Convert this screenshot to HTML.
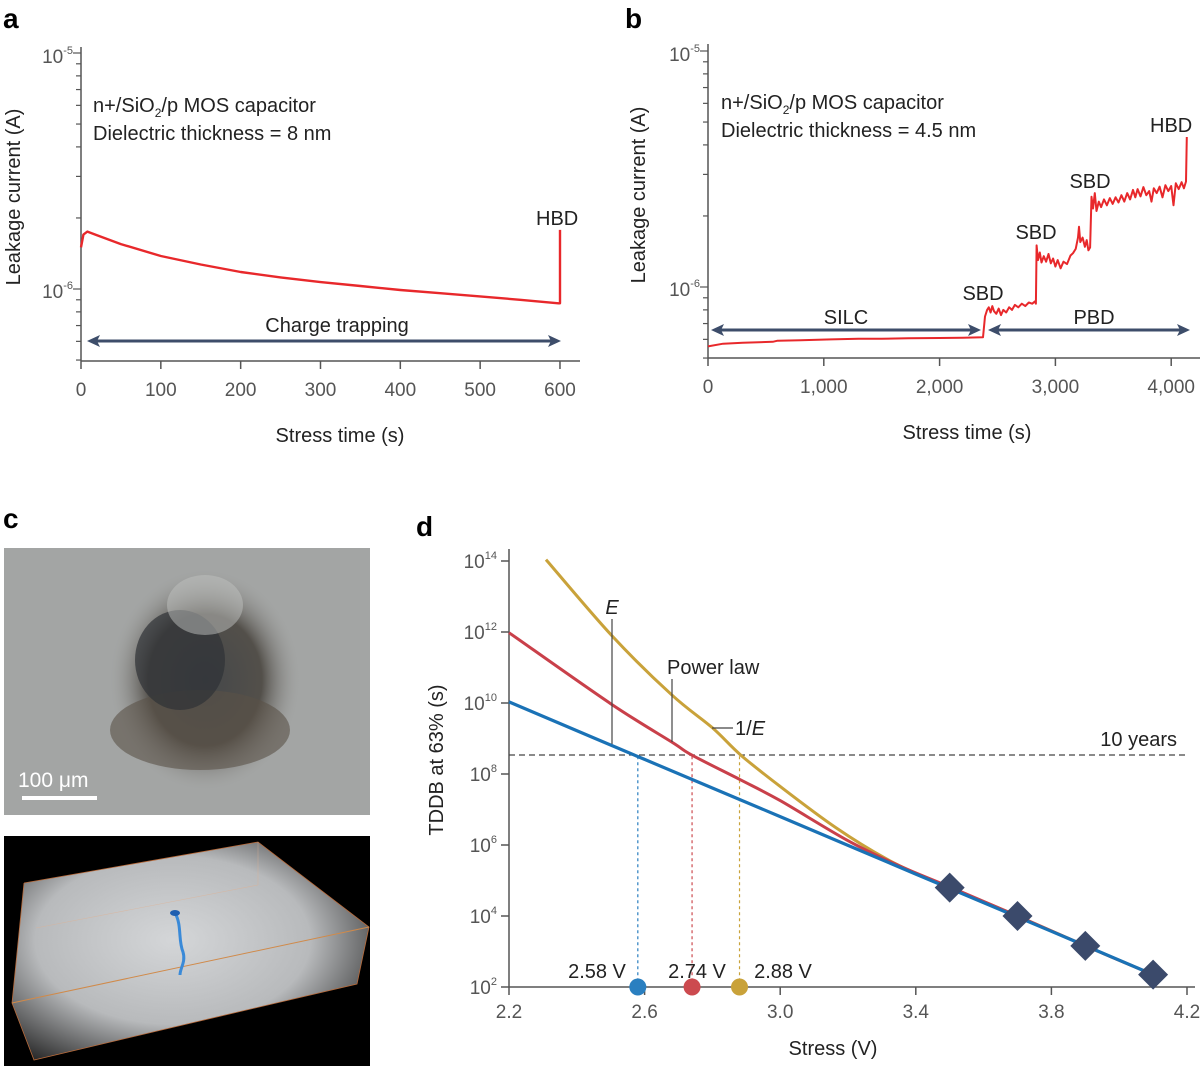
<!DOCTYPE html>
<html><head><meta charset="utf-8"><style>
html,body{margin:0;padding:0;background:#fff}
svg{display:block;font-family:"Liberation Sans",sans-serif}
</style></head><body>
<svg id="fig" width="1200" height="1066" viewBox="0 0 1200 1066" xmlns="http://www.w3.org/2000/svg">
<defs>
<radialGradient id="boxg" cx="0.45" cy="0.45" r="0.7">
<stop offset="0" stop-color="#d4d6d8"/><stop offset="0.55" stop-color="#b8babc"/><stop offset="1" stop-color="#1a1a1a"/>
</radialGradient>
<radialGradient id="blob" cx="0.5" cy="0.5" r="0.5">
<stop offset="0" stop-color="#3a3d40"/><stop offset="0.6" stop-color="#4a4640"/><stop offset="1" stop-color="#9a9a98" stop-opacity="0"/>
</radialGradient>
</defs>
<text x="3" y="28" font-size="28" font-weight="bold">a</text>
<text x="625" y="28" font-size="28" font-weight="bold">b</text>
<text x="3" y="528" font-size="28" font-weight="bold">c</text>
<text x="416" y="536" font-size="28" font-weight="bold">d</text>

<g id="pa">
<line x1="81" y1="47" x2="81" y2="361" stroke="#555" stroke-width="1.5"/>
<line x1="81" y1="361" x2="580" y2="361" stroke="#555" stroke-width="1.5"/>
<text x="73" y="63" font-size="19" fill="#555" text-anchor="end">10<tspan font-size="11" dy="-9">-5</tspan></text>
<text x="73" y="298" font-size="19" fill="#555" text-anchor="end">10<tspan font-size="11" dy="-9">-6</tspan></text>
<text x="93" y="112" font-size="20" fill="#222">n+/SiO<tspan font-size="12" dy="5">2</tspan><tspan dy="-5">/p MOS capacitor</tspan></text>
<text x="93" y="140" font-size="20" fill="#222">Dielectric thickness = 8 nm</text>
<text x="536" y="225" font-size="20" fill="#222">HBD</text>
<text x="337" y="332" font-size="20" fill="#222" text-anchor="middle">Charge trapping</text>
<g>
<line x1="96" y1="341" x2="552" y2="341" stroke="#3d4d6a" stroke-width="3"/>
<polygon points="87,341 100,335 97,341 100,347" fill="#3d4d6a"/>
<polygon points="561,341 548,335 551,341 548,347" fill="#3d4d6a"/>
</g>
<text x="340" y="442" font-size="20" fill="#222" text-anchor="middle">Stress time (s)</text>
<text transform="translate(20,197) rotate(-90)" font-size="20" fill="#222" text-anchor="middle">Leakage current (A)</text>
</g>

<g id="pb">
<line x1="708" y1="44" x2="708" y2="358" stroke="#555" stroke-width="1.5"/>
<line x1="708" y1="358" x2="1201" y2="358" stroke="#555" stroke-width="1.5"/>
<text x="700" y="61" font-size="19" fill="#555" text-anchor="end">10<tspan font-size="11" dy="-9">-5</tspan></text>
<text x="700" y="296" font-size="19" fill="#555" text-anchor="end">10<tspan font-size="11" dy="-9">-6</tspan></text>
<text x="721" y="109" font-size="20" fill="#222">n+/SiO<tspan font-size="12" dy="5">2</tspan><tspan dy="-5">/p MOS capacitor</tspan></text>
<text x="721" y="137" font-size="20" fill="#222">Dielectric thickness = 4.5 nm</text>
<text x="1150" y="132" font-size="20" fill="#222">HBD</text>
<text x="983" y="300" font-size="20" fill="#222" text-anchor="middle">SBD</text>
<text x="1036" y="239" font-size="20" fill="#222" text-anchor="middle">SBD</text>
<text x="1090" y="188" font-size="20" fill="#222" text-anchor="middle">SBD</text>
<text x="846" y="324" font-size="20" fill="#222" text-anchor="middle">SILC</text>
<text x="1094" y="324" font-size="20" fill="#222" text-anchor="middle">PBD</text>
<g>
<line x1="720" y1="330" x2="972" y2="330" stroke="#3d4d6a" stroke-width="3"/>
<polygon points="711,330 724,324 721,330 724,336" fill="#3d4d6a"/>
<polygon points="981,330 968,324 971,330 968,336" fill="#3d4d6a"/>
</g>
<g>
<line x1="997" y1="330" x2="1181" y2="330" stroke="#3d4d6a" stroke-width="3"/>
<polygon points="988,330 1001,324 998,330 1001,336" fill="#3d4d6a"/>
<polygon points="1190,330 1177,324 1180,330 1177,336" fill="#3d4d6a"/>
</g>
<text x="967" y="439" font-size="20" fill="#222" text-anchor="middle">Stress time (s)</text>
<text transform="translate(645,195) rotate(-90)" font-size="20" fill="#222" text-anchor="middle">Leakage current (A)</text>
</g>

<g>
<rect x="4" y="548" width="366" height="267" fill="#a3a5a4"/>
<ellipse cx="205" cy="680" rx="95" ry="110" fill="url(#blob)" opacity="0.9"/>
<ellipse cx="200" cy="730" rx="90" ry="40" fill="#5a5248" opacity="0.6"/>
<ellipse cx="180" cy="660" rx="45" ry="50" fill="#2f3236" opacity="0.7"/>
<ellipse cx="205" cy="605" rx="38" ry="30" fill="#c0c2c0" opacity="0.5"/>
<text x="18" y="787" font-size="21" fill="#fff">100 μm</text>
<rect x="22" y="796" width="75" height="4" fill="#fff"/>
</g>
<g>
<rect x="4" y="836" width="366" height="230" fill="#000"/>
<polygon points="24,883 258,842 369,927 357,984 34,1060 12,1003" fill="url(#boxg)"/>
<polyline points="24,883 258,842 369,927 357,984 34,1060 12,1003 24,883" fill="none" stroke="#b86a3a" stroke-width="0.8"/>
<line x1="12" y1="1003" x2="369" y2="927" stroke="#d08a4a" stroke-width="1"/>
<line x1="36" y1="928" x2="258" y2="885" stroke="#e0b090" stroke-width="0.6" opacity="0.6"/>
<line x1="258" y1="842" x2="258" y2="885" stroke="#e0b090" stroke-width="0.6" opacity="0.6"/>
<path d="M175,913 C182,925 178,940 183,952 C186,962 180,968 180,975" fill="none" stroke="#3a8ad8" stroke-width="3"/>
<ellipse cx="175" cy="913" rx="5" ry="3" fill="#1f5fb0"/>
</g>

<g id="pd">
<line x1="509" y1="549" x2="509" y2="987" stroke="#555" stroke-width="1.5"/>
<line x1="509" y1="987" x2="1195" y2="987" stroke="#555" stroke-width="1.5"/>
<text x="833" y="1055" font-size="20" fill="#222" text-anchor="middle">Stress (V)</text>
<text transform="translate(443,760) rotate(-90)" font-size="20" fill="#222" text-anchor="middle">TDDB at 63% (s)</text>
<line x1="509" y1="755" x2="1185" y2="755" stroke="#444" stroke-width="1.2" stroke-dasharray="6,4"/>
<text x="1177" y="746" font-size="20" fill="#222" text-anchor="end">10 years</text>
</g>
</svg>
<script>
const NS='http://www.w3.org/2000/svg';
const aTicksX=[0,100,200,300,400,500,600];
const aTime=[0,3,8,20,50,100,150,200,250,300,350,400,450,500,550,598,600,600];
const aCurrent=[1.50,1.70,1.75,1.69,1.55,1.38,1.27,1.18,1.12,1.07,1.03,0.99,0.96,0.93,0.90,0.87,0.87,1.78];
const bTicksX=[0,1000,2000,3000,4000];
const bTickLabels=['0','1,000','2,000','3,000','4,000'];
const bTime=[0,130,300,560,600,800,1062,1300,1500,1727,2000,2200,2375,2392,2410,2425,2440,2455,2470,2490,2510,2530,2550,2575,2600,2625,2650,2680,2710,2740,2770,2800,2825,2832,2838,2850,2865,2880,2900,2920,2940,2960,2980,3000,3020,3045,3070,3100,3130,3152,3175,3195,3204,3215,3235,3255,3270,3285,3300,3312,3325,3340,3355,3375,3395,3420,3445,3470,3495,3520,3545,3570,3595,3620,3645,3670,3690,3710,3735,3760,3785,3810,3830,3850,3875,3900,3925,3950,3975,4000,4020,4040,4065,4090,4110,4128,4135];
const bCurrent=[0.56,0.575,0.58,0.586,0.592,0.595,0.60,0.603,0.604,0.606,0.608,0.61,0.612,0.75,0.80,0.82,0.78,0.83,0.79,0.77,0.81,0.76,0.80,0.78,0.82,0.80,0.84,0.82,0.85,0.83,0.86,0.85,0.87,0.85,1.50,1.30,1.40,1.27,1.35,1.28,1.38,1.26,1.32,1.22,1.30,1.20,1.28,1.25,1.36,1.39,1.45,1.62,1.80,1.55,1.62,1.48,1.58,1.43,1.47,2.41,2.15,2.50,2.10,2.30,2.18,2.35,2.22,2.38,2.25,2.40,2.28,2.45,2.30,2.50,2.35,2.58,2.40,2.60,2.42,2.65,2.45,2.55,2.30,2.62,2.50,2.66,2.40,2.70,2.55,2.68,2.22,2.75,2.60,2.78,2.62,2.80,4.32];
const dTicksX=[2.2,2.6,3.0,3.4,3.8,4.2];
const dTicksY=[2,4,6,8,10,12,14];
const blueV=[2.2,2.6,3.0,3.4,3.8,4.1];
const blueLog=[10.03,8.41,6.80,5.18,3.57,2.35];
const redV=[2.2,2.5,2.68,2.74,2.88,3.0,3.2,3.35,3.5,3.7,3.9,4.1];
const redLog=[11.98,9.98,8.90,8.53,7.85,7.25,6.12,5.42,4.82,4.00,3.16,2.35];
const goldV=[2.309,2.503,2.68,2.80,2.884,2.997,3.164,3.315,3.436,3.5,3.7,3.9,4.1];
const goldLog=[14.04,11.90,10.23,9.30,8.53,7.67,6.49,5.60,5.05,4.80,4.00,3.16,2.35];
const measV=[3.5,3.7,3.9,4.1];
const measLog=[4.80,4.00,3.16,2.35];
const critV=[2.58,2.74,2.88];
const critLabels=['2.58 V','2.74 V','2.88 V'];
const tenYearLog=8.5;

const xA=t=>81+t*0.7983, yA=v=>289-236*Math.log10(v);
const xB=t=>708+t*0.1158, yB=v=>287-236*Math.log10(v);
const xD=v=>509+(v-2.2)*339, yD=l=>561+(14-l)*35.5;

function mk(tag,attrs,parent){const e=document.createElementNS(NS,tag);for(const k in attrs)e.setAttribute(k,attrs[k]);parent.appendChild(e);return e;}
const pa=document.getElementById('pa'),pb=document.getElementById('pb'),pd=document.getElementById('pd');

aTicksX.forEach(t=>{
 const l=mk('line',{x1:xA(t),y1:361,x2:xA(t),y2:369,stroke:'#555','stroke-width':1.5},pa);
 
 
 const tx=mk('text',{x:xA(t),y:396,'font-size':19,fill:'#555','text-anchor':'middle'},pa);
 tx.textContent=String(t);
 
 
});
function minorTicks(g,yf,x0,prefix){
 [0.5,0.6,0.7,0.8,0.9,1,2,3,4,5,6,7,8,9,10].forEach(v=>{
  const maj=(v===1||v===10);
  const l=mk('line',{x1:x0-(maj?8:5),y1:yf(v),x2:x0,y2:yf(v),stroke:'#555','stroke-width':1.2},g);
  
  
 });
}
minorTicks(pa,yA,81,'a');
minorTicks(pb,yB,708,'b');

const aPts=aTime.map((t,i)=>xA(t).toFixed(1)+','+yA(aCurrent[i]).toFixed(1)).join(' ');
const aLine=mk('polyline',{points:aPts,fill:'none',stroke:'#e8282b','stroke-width':2.4,'stroke-linejoin':'round'},pa);



bTicksX.forEach((t,i)=>{
 const l=mk('line',{x1:xB(t),y1:358,x2:xB(t),y2:366,stroke:'#555','stroke-width':1.5},pb);
 
 
 const tx=mk('text',{x:xB(t),y:393,'font-size':19,fill:'#555','text-anchor':'middle'},pb);
 tx.textContent=bTickLabels[i];
 
 
});
const bPts=bTime.map((t,i)=>xB(t).toFixed(1)+','+yB(bCurrent[i]).toFixed(1)).join(' ');
const bLine=mk('polyline',{points:bPts,fill:'none',stroke:'#e8282b','stroke-width':2,'stroke-linejoin':'round'},pb);



dTicksX.forEach(v=>{
 const l=mk('line',{x1:xD(v),y1:987,x2:xD(v),y2:995,stroke:'#555','stroke-width':1.5},pd);
 
 
 const tx=mk('text',{x:xD(v),y:1018,'font-size':19,fill:'#555','text-anchor':'middle'},pd);
 tx.textContent=v.toFixed(1);
 
 
});
dTicksY.forEach(p=>{
 const l=mk('line',{x1:501,y1:yD(p),x2:509,y2:yD(p),stroke:'#555','stroke-width':1.5},pd);
 
 
 const tx=mk('text',{x:497,y:yD(p)+7,'font-size':19,fill:'#555','text-anchor':'end'},pd);
 tx.textContent='10';
 const sp=mk('tspan',{'font-size':11,dy:-9},tx);
 sp.textContent=String(p);
 
 
});
function smooth(xs,ys){
 const P=xs.map((v,i)=>[xD(v),yD(ys[i])]);
 let d='M'+P[0][0].toFixed(1)+','+P[0][1].toFixed(1);
 for(let i=0;i<P.length-1;i++){
  const p0=P[Math.max(0,i-1)],p1=P[i],p2=P[i+1],p3=P[Math.min(P.length-1,i+2)];
  const c1=[p1[0]+(p2[0]-p0[0])/6,p1[1]+(p2[1]-p0[1])/6];
  const c2=[p2[0]-(p3[0]-p1[0])/6,p2[1]-(p3[1]-p1[1])/6];
  d+=' C'+c1.map(n=>n.toFixed(1)).join(',')+' '+c2.map(n=>n.toFixed(1)).join(',')+' '+p2[0].toFixed(1)+','+p2[1].toFixed(1);
 }
 return d;
}
const yTen=yD(tenYearLog);
const critColors=['#2a7fc0','#cc4a4f','#c9a23a'];
critV.forEach((v,i)=>{
 const l=mk('line',{x1:xD(v),y1:yTen,x2:xD(v),y2:987,stroke:critColors[i],'stroke-width':1.2,'stroke-dasharray':'3,3'},pd);
 
 
});
const gold=mk('path',{d:smooth(goldV,goldLog),fill:'none',stroke:'#c9a23a','stroke-width':3},pd);


const red=mk('path',{d:smooth(redV,redLog),fill:'none',stroke:'#c9404a','stroke-width':3},pd);


const blue=mk('path',{d:smooth(blueV,blueLog),fill:'none',stroke:'#1a72b6','stroke-width':3.2},pd);


measV.forEach((v,i)=>{
 const x=xD(v),y=yD(measLog[i]),r=15;
 const dm=mk('polygon',{points:`${x},${y-r} ${x+r},${y} ${x},${y+r} ${x-r},${y}`,fill:'#3b4a6b'},pd);
 
 
});
critV.forEach((v,i)=>{
 const c=mk('circle',{cx:xD(v),cy:987,r:8.5,fill:critColors[i]},pd);
 
 
});
const labX=[597,697,783];
critLabels.forEach((s,i)=>{
 const t=mk('text',{x:labX[i],y:978,'font-size':20,fill:'#222','text-anchor':'middle'},pd);
 t.textContent=s;
 
 
});
const eT=mk('text',{x:612,y:614,'font-size':20,'font-style':'italic',fill:'#222','text-anchor':'middle'},pd);
eT.textContent='E';


const eL=mk('line',{x1:612,y1:619,x2:612,y2:744,stroke:'#444','stroke-width':1.2},pd);


const pT=mk('text',{x:667,y:674,'font-size':20,fill:'#222'},pd);
pT.textContent='Power law';


const pL=mk('line',{x1:672,y1:679,x2:672,y2:742,stroke:'#444','stroke-width':1.2},pd);


const iL=mk('line',{x1:712,y1:728,x2:733,y2:728,stroke:'#444','stroke-width':1.2},pd);


const iT=mk('text',{x:735,y:735,'font-size':20,fill:'#222'},pd);
iT.textContent='1/';
const iE=mk('tspan',{'font-style':'italic'},iT);
iE.textContent='E';


</script>
</body></html>
